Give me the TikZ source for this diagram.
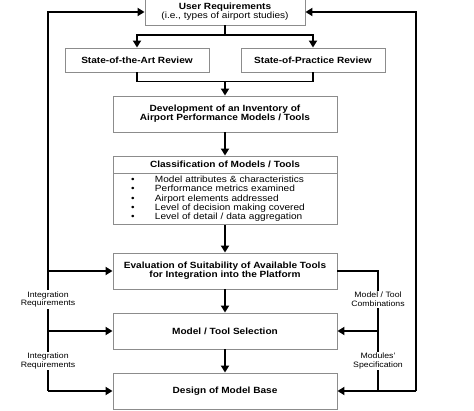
\documentclass[tikz,border=0pt]{standalone}
\usepackage{fontspec}
\setmainfont{Liberation Sans}[FakeStretch=1.12]
\usetikzlibrary{arrows.meta}
\newcommand\ttlfont{\bfseries\fontsize{9}{9.2}\selectfont}
\newcommand\bodyfnt{\fontsize{9}{9.25}\selectfont}
\newcommand\lblfnt{\fontsize{7.8}{8.7}\selectfont}
\begin{document}
\begin{tikzpicture}[x=1pt,y=-1pt,
  box/.style={draw=black!45, line width=0.9pt, fill=white, minimum width=224pt,
    minimum height=36pt, inner sep=0pt, align=center, font=\ttlfont},
  conn/.style={line width=1.8pt},
  arr/.style={conn, -{Triangle[length=7pt,width=8pt]}},
  lbl/.style={fill=white, inner sep=1.5pt, align=center, font=\lblfnt}]
\useasboundingbox (0,0) rectangle (474,411);
% boxes
\node[box, minimum width=160pt, minimum height=26pt] (ur) at (225,12)
  {User Requirements\\{\mdseries (i.e., types of airport studies)}};
\node[box, minimum width=144pt, minimum height=24pt] (soa) at (137,60) {State-of-the-Art Review};
\node[box, minimum width=144pt, minimum height=24pt] (sop) at (313,60) {State-of-Practice Review};
\node[box] (dev) at (225,114) {Development of an Inventory of\\Airport Performance Models / Tools};
\node[box, minimum height=17pt] (clh) at (225,164.5) {Classification of Models / Tools};
\node[box, anchor=north, minimum height=51pt, text width=224pt, align=left, font=\bodyfnt] (clb) at (clh.south)
  {\begin{tabular}{@{\hspace{18pt}}p{24pt}@{}l@{}}
   \textbullet & Model attributes \& characteristics\\
   \textbullet & Performance metrics examined\\
   \textbullet & Airport elements addressed\\
   \textbullet & Level of decision making covered\\
   \textbullet & Level of detail / data aggregation
   \end{tabular}};
\node[box] (eval) at (225,271) {Evaluation of Suitability of Available Tools\\for Integration into the Platform};
\node[box] (sel) at (225,331) {Model / Tool Selection};
\node[box] (des) at (225,391) {Design of Model Base};
% helper coordinates
\coordinate (lx) at (48,0);
\coordinate (mx) at (378,0);
\coordinate (rx) at (416,0);
\coordinate (mid) at (225,81);
% main flow
\draw[arr] (ur.south) -- ++(0,9.5) -| (soa.north);
\draw[arr] (ur.south) -- ++(0,9.5) -| (sop.north);
\draw[conn] (soa.south) -- ++(0,9) -| (sop.south);
\draw[arr] (mid) -- (dev.north);
\draw[arr] (dev.south) -- (clh.north);
\draw[arr] (clb.south) -- (eval.north);
\draw[arr] (eval.south) -- (sel.north);
\draw[arr] (sel.south) -- (des.north);
% left bus
\coordinate (lb) at (des.west -| lx);
\draw[arr] (lb) |- (ur.west);
\draw[arr] (lb) -- (des.west);
\draw[arr] (eval.west -| lx) -- (eval.west);
\draw[arr] (sel.west -| lx) -- (sel.west);
% right bus
\coordinate (rb) at (des.east -| rx);
\draw[arr] (rb) |- (ur.east);
\draw[arr] (rb) -- (des.east);
\draw[conn] (eval.east) -| (des.east -| mx);
\draw[arr] (sel.east -| mx) -- (sel.east);
% labels
\node[lbl] (ir1) at (48,299.5) {Integration\\Requirements};
\node[lbl] (ir2) at (48,361) {Integration\\Requirements};
\node[lbl] (mtc) at (378,299.5) {Model / Tool\\Combinations};
\node[lbl] (mspec) at (378,361) {Modules'\\Specification};
\end{tikzpicture}
\end{document}
